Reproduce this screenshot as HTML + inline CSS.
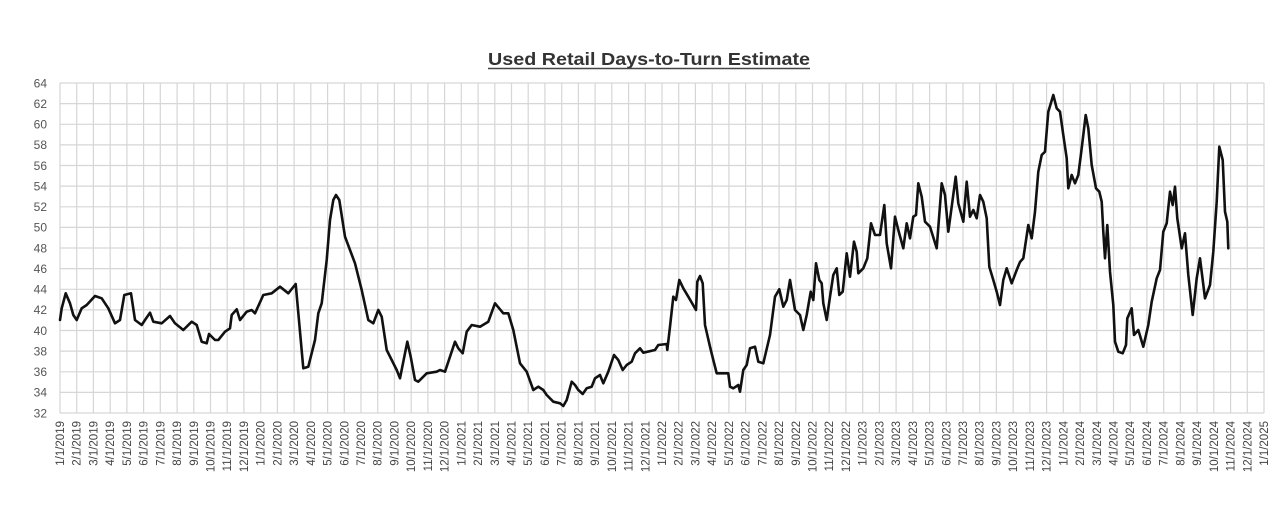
<!DOCTYPE html>
<html><head><meta charset="utf-8"><style>
html,body{margin:0;padding:0;background:#fff;}
svg{display:block;}
text{font-family:"Liberation Sans",Arial,sans-serif;}
</style></head><body>
<svg width="1280" height="515" viewBox="0 0 1280 515" xmlns="http://www.w3.org/2000/svg">
<rect width="1280" height="515" fill="#fff"/>
<text x="649" y="65" text-anchor="middle" font-size="17.5" font-weight="bold" fill="#333" textLength="322" lengthAdjust="spacingAndGlyphs">Used Retail Days-to-Turn Estimate</text>
<line x1="488" y1="68.5" x2="810" y2="68.5" stroke="#444" stroke-width="1.4"/>
<g stroke="#d6d6d6" stroke-width="1.2">
<line x1="60" y1="83" x2="1264" y2="83"/><line x1="60" y1="103.6" x2="1264" y2="103.6"/><line x1="60" y1="124.3" x2="1264" y2="124.3"/><line x1="60" y1="144.9" x2="1264" y2="144.9"/><line x1="60" y1="165.5" x2="1264" y2="165.5"/><line x1="60" y1="186.1" x2="1264" y2="186.1"/><line x1="60" y1="206.8" x2="1264" y2="206.8"/><line x1="60" y1="227.4" x2="1264" y2="227.4"/><line x1="60" y1="248" x2="1264" y2="248"/><line x1="60" y1="268.6" x2="1264" y2="268.6"/><line x1="60" y1="289.3" x2="1264" y2="289.3"/><line x1="60" y1="309.9" x2="1264" y2="309.9"/><line x1="60" y1="330.5" x2="1264" y2="330.5"/><line x1="60" y1="351.1" x2="1264" y2="351.1"/><line x1="60" y1="371.8" x2="1264" y2="371.8"/><line x1="60" y1="392.4" x2="1264" y2="392.4"/><line x1="60" y1="413" x2="1264" y2="413"/>
<line x1="60" y1="83" x2="60" y2="413"/><line x1="76.7" y1="83" x2="76.7" y2="413"/><line x1="93.4" y1="83" x2="93.4" y2="413"/><line x1="110.2" y1="83" x2="110.2" y2="413"/><line x1="126.9" y1="83" x2="126.9" y2="413"/><line x1="143.6" y1="83" x2="143.6" y2="413"/><line x1="160.3" y1="83" x2="160.3" y2="413"/><line x1="177.1" y1="83" x2="177.1" y2="413"/><line x1="193.8" y1="83" x2="193.8" y2="413"/><line x1="210.5" y1="83" x2="210.5" y2="413"/><line x1="227.2" y1="83" x2="227.2" y2="413"/><line x1="243.9" y1="83" x2="243.9" y2="413"/><line x1="260.7" y1="83" x2="260.7" y2="413"/><line x1="277.4" y1="83" x2="277.4" y2="413"/><line x1="294.1" y1="83" x2="294.1" y2="413"/><line x1="310.8" y1="83" x2="310.8" y2="413"/><line x1="327.6" y1="83" x2="327.6" y2="413"/><line x1="344.3" y1="83" x2="344.3" y2="413"/><line x1="361" y1="83" x2="361" y2="413"/><line x1="377.7" y1="83" x2="377.7" y2="413"/><line x1="394.4" y1="83" x2="394.4" y2="413"/><line x1="411.2" y1="83" x2="411.2" y2="413"/><line x1="427.9" y1="83" x2="427.9" y2="413"/><line x1="444.6" y1="83" x2="444.6" y2="413"/><line x1="461.3" y1="83" x2="461.3" y2="413"/><line x1="478.1" y1="83" x2="478.1" y2="413"/><line x1="494.8" y1="83" x2="494.8" y2="413"/><line x1="511.5" y1="83" x2="511.5" y2="413"/><line x1="528.2" y1="83" x2="528.2" y2="413"/><line x1="544.9" y1="83" x2="544.9" y2="413"/><line x1="561.7" y1="83" x2="561.7" y2="413"/><line x1="578.4" y1="83" x2="578.4" y2="413"/><line x1="595.1" y1="83" x2="595.1" y2="413"/><line x1="611.8" y1="83" x2="611.8" y2="413"/><line x1="628.6" y1="83" x2="628.6" y2="413"/><line x1="645.3" y1="83" x2="645.3" y2="413"/><line x1="662" y1="83" x2="662" y2="413"/><line x1="678.7" y1="83" x2="678.7" y2="413"/><line x1="695.4" y1="83" x2="695.4" y2="413"/><line x1="712.2" y1="83" x2="712.2" y2="413"/><line x1="728.9" y1="83" x2="728.9" y2="413"/><line x1="745.6" y1="83" x2="745.6" y2="413"/><line x1="762.3" y1="83" x2="762.3" y2="413"/><line x1="779.1" y1="83" x2="779.1" y2="413"/><line x1="795.8" y1="83" x2="795.8" y2="413"/><line x1="812.5" y1="83" x2="812.5" y2="413"/><line x1="829.2" y1="83" x2="829.2" y2="413"/><line x1="845.9" y1="83" x2="845.9" y2="413"/><line x1="862.7" y1="83" x2="862.7" y2="413"/><line x1="879.4" y1="83" x2="879.4" y2="413"/><line x1="896.1" y1="83" x2="896.1" y2="413"/><line x1="912.8" y1="83" x2="912.8" y2="413"/><line x1="929.6" y1="83" x2="929.6" y2="413"/><line x1="946.3" y1="83" x2="946.3" y2="413"/><line x1="963" y1="83" x2="963" y2="413"/><line x1="979.7" y1="83" x2="979.7" y2="413"/><line x1="996.4" y1="83" x2="996.4" y2="413"/><line x1="1013.2" y1="83" x2="1013.2" y2="413"/><line x1="1029.9" y1="83" x2="1029.9" y2="413"/><line x1="1046.6" y1="83" x2="1046.6" y2="413"/><line x1="1063.3" y1="83" x2="1063.3" y2="413"/><line x1="1080.1" y1="83" x2="1080.1" y2="413"/><line x1="1096.8" y1="83" x2="1096.8" y2="413"/><line x1="1113.5" y1="83" x2="1113.5" y2="413"/><line x1="1130.2" y1="83" x2="1130.2" y2="413"/><line x1="1146.9" y1="83" x2="1146.9" y2="413"/><line x1="1163.7" y1="83" x2="1163.7" y2="413"/><line x1="1180.4" y1="83" x2="1180.4" y2="413"/><line x1="1197.1" y1="83" x2="1197.1" y2="413"/><line x1="1213.8" y1="83" x2="1213.8" y2="413"/><line x1="1230.6" y1="83" x2="1230.6" y2="413"/><line x1="1247.3" y1="83" x2="1247.3" y2="413"/><line x1="1264" y1="83" x2="1264" y2="413"/>
</g>
<g font-size="12" fill="#555" text-anchor="end">
<text x="47" y="87.3">64</text><text x="47" y="107.9">62</text><text x="47" y="128.6">60</text><text x="47" y="149.2">58</text><text x="47" y="169.8">56</text><text x="47" y="190.4">54</text><text x="47" y="211.1">52</text><text x="47" y="231.7">50</text><text x="47" y="252.3">48</text><text x="47" y="272.9">46</text><text x="47" y="293.6">44</text><text x="47" y="314.2">42</text><text x="47" y="334.8">40</text><text x="47" y="355.4">38</text><text x="47" y="376.1">36</text><text x="47" y="396.7">34</text><text x="47" y="417.3">32</text>
</g>
<g font-size="11.5" fill="#444" text-anchor="end">
<text transform="translate(64,421) rotate(-90)">1/1/2019</text>
<text transform="translate(80.7,421) rotate(-90)">2/1/2019</text>
<text transform="translate(97.4,421) rotate(-90)">3/1/2019</text>
<text transform="translate(114.2,421) rotate(-90)">4/1/2019</text>
<text transform="translate(130.9,421) rotate(-90)">5/1/2019</text>
<text transform="translate(147.6,421) rotate(-90)">6/1/2019</text>
<text transform="translate(164.3,421) rotate(-90)">7/1/2019</text>
<text transform="translate(181.1,421) rotate(-90)">8/1/2019</text>
<text transform="translate(197.8,421) rotate(-90)">9/1/2019</text>
<text transform="translate(214.5,421) rotate(-90)">10/1/2019</text>
<text transform="translate(231.2,421) rotate(-90)">11/1/2019</text>
<text transform="translate(247.9,421) rotate(-90)">12/1/2019</text>
<text transform="translate(264.7,421) rotate(-90)">1/1/2020</text>
<text transform="translate(281.4,421) rotate(-90)">2/1/2020</text>
<text transform="translate(298.1,421) rotate(-90)">3/1/2020</text>
<text transform="translate(314.8,421) rotate(-90)">4/1/2020</text>
<text transform="translate(331.6,421) rotate(-90)">5/1/2020</text>
<text transform="translate(348.3,421) rotate(-90)">6/1/2020</text>
<text transform="translate(365,421) rotate(-90)">7/1/2020</text>
<text transform="translate(381.7,421) rotate(-90)">8/1/2020</text>
<text transform="translate(398.4,421) rotate(-90)">9/1/2020</text>
<text transform="translate(415.2,421) rotate(-90)">10/1/2020</text>
<text transform="translate(431.9,421) rotate(-90)">11/1/2020</text>
<text transform="translate(448.6,421) rotate(-90)">12/1/2020</text>
<text transform="translate(465.3,421) rotate(-90)">1/1/2021</text>
<text transform="translate(482.1,421) rotate(-90)">2/1/2021</text>
<text transform="translate(498.8,421) rotate(-90)">3/1/2021</text>
<text transform="translate(515.5,421) rotate(-90)">4/1/2021</text>
<text transform="translate(532.2,421) rotate(-90)">5/1/2021</text>
<text transform="translate(548.9,421) rotate(-90)">6/1/2021</text>
<text transform="translate(565.7,421) rotate(-90)">7/1/2021</text>
<text transform="translate(582.4,421) rotate(-90)">8/1/2021</text>
<text transform="translate(599.1,421) rotate(-90)">9/1/2021</text>
<text transform="translate(615.8,421) rotate(-90)">10/1/2021</text>
<text transform="translate(632.6,421) rotate(-90)">11/1/2021</text>
<text transform="translate(649.3,421) rotate(-90)">12/1/2021</text>
<text transform="translate(666,421) rotate(-90)">1/1/2022</text>
<text transform="translate(682.7,421) rotate(-90)">2/1/2022</text>
<text transform="translate(699.4,421) rotate(-90)">3/1/2022</text>
<text transform="translate(716.2,421) rotate(-90)">4/1/2022</text>
<text transform="translate(732.9,421) rotate(-90)">5/1/2022</text>
<text transform="translate(749.6,421) rotate(-90)">6/1/2022</text>
<text transform="translate(766.3,421) rotate(-90)">7/1/2022</text>
<text transform="translate(783.1,421) rotate(-90)">8/1/2022</text>
<text transform="translate(799.8,421) rotate(-90)">9/1/2022</text>
<text transform="translate(816.5,421) rotate(-90)">10/1/2022</text>
<text transform="translate(833.2,421) rotate(-90)">11/1/2022</text>
<text transform="translate(849.9,421) rotate(-90)">12/1/2022</text>
<text transform="translate(866.7,421) rotate(-90)">1/1/2023</text>
<text transform="translate(883.4,421) rotate(-90)">2/1/2023</text>
<text transform="translate(900.1,421) rotate(-90)">3/1/2023</text>
<text transform="translate(916.8,421) rotate(-90)">4/1/2023</text>
<text transform="translate(933.6,421) rotate(-90)">5/1/2023</text>
<text transform="translate(950.3,421) rotate(-90)">6/1/2023</text>
<text transform="translate(967,421) rotate(-90)">7/1/2023</text>
<text transform="translate(983.7,421) rotate(-90)">8/1/2023</text>
<text transform="translate(1000.4,421) rotate(-90)">9/1/2023</text>
<text transform="translate(1017.2,421) rotate(-90)">10/1/2023</text>
<text transform="translate(1033.9,421) rotate(-90)">11/1/2023</text>
<text transform="translate(1050.6,421) rotate(-90)">12/1/2023</text>
<text transform="translate(1067.3,421) rotate(-90)">1/1/2024</text>
<text transform="translate(1084.1,421) rotate(-90)">2/1/2024</text>
<text transform="translate(1100.8,421) rotate(-90)">3/1/2024</text>
<text transform="translate(1117.5,421) rotate(-90)">4/1/2024</text>
<text transform="translate(1134.2,421) rotate(-90)">5/1/2024</text>
<text transform="translate(1150.9,421) rotate(-90)">6/1/2024</text>
<text transform="translate(1167.7,421) rotate(-90)">7/1/2024</text>
<text transform="translate(1184.4,421) rotate(-90)">8/1/2024</text>
<text transform="translate(1201.1,421) rotate(-90)">9/1/2024</text>
<text transform="translate(1217.8,421) rotate(-90)">10/1/2024</text>
<text transform="translate(1234.6,421) rotate(-90)">11/1/2024</text>
<text transform="translate(1251.3,421) rotate(-90)">12/1/2024</text>
<text transform="translate(1268,421) rotate(-90)">1/1/2025</text>
</g>
<polyline fill="none" stroke="#111" stroke-width="2.6" stroke-linejoin="round" stroke-linecap="round" points="
60,320 61.7,308.3 65.7,293.3 70,303.3 73.3,315 76.7,320 81.7,308.3 86.7,305 95,296 101.7,298.3 108.3,308.3 115,323.3 120,320 124.3,295 131,293.3 135,320 141.7,325 145,320 150,312.7 153.3,321.7 161.7,323.3 170,316 175,323.3 183.3,330 191.7,321.7 196.7,325 201.7,341.7 206.7,343.3 209,334 215,340 218.3,340 225,331.7 230,328.3 231.7,315 236.7,309.3 240,320 246.7,311.7 251.7,310 255,313.3 263.3,295 271.7,293.3 280,286.7 288.3,293.3 295.7,284
303.3,368.3 308.3,366.7 315,340 318.3,313.3 321.7,303.3 326.7,260 330,220 333.3,200 336,195 339.3,200 345,236.7 350,250 355,263.3 361.7,290 368.3,320 373.3,323.3 378.3,310 381.7,316.7 386.7,350 391.7,360 396.7,370 400,378.3 407.3,341.7 410.7,356.7 415,380 418.3,381.7 426.7,373.3 436.7,371.7 440,370 445,371.7 450,356.7 455,341.7 458.3,348.3 462.7,353.3 466.7,331.7 471.7,325 480,326.7 488.3,321.7 495,303.3 503.3,313.3 508.3,313.3 513.3,330 520,363.3 526.7,371.7 533.3,390 538.3,386.7 543.3,390
546.7,395 553.3,401.7 560,403.3 563.3,406 566.7,400 571.7,381.7 575,385 578.3,390 582.7,394 586.7,388.3 591.7,386.7 595,378.3 600,375 603.3,383.3 608.3,371.7 614,355 618.3,360 622.7,370 626.7,365 631.7,361.7 635,353.3 640,348.3 643.3,352.7 655,350 658.3,345 666.7,344 667.3,350 670,326.7 673.3,296.7 676,300 679.3,280 683.3,288.3 688.3,296.7 696,310 697.3,281.7 700,276 702.7,283.3 705,325 710,346.7 713.3,360 716.7,373.3 728.3,373.3 730,386.7 733.3,388.3 738.3,385 740,391.7 743.3,370 746.7,365 750,348.3 755,346.7 758.3,361.7 763.3,363.3 770,335 775,296.7 779.3,289.3 783.3,306.7 786.7,300 790,280
795,310 800,315 803.3,330 806.7,315 810.7,291.7 813.3,300 816,263.3 819.3,280 821.7,283.3 823.3,303.3 826.7,320 830,296.7 833.3,275 836.7,268.3 839.3,295 842.7,291.7 846.7,253.3 850,276.7 854,241.7 856.7,251.7 858.3,273.3 863.3,268.3 867.3,258.3 871,223.3 875,235 880,235 884.3,205 886.7,243.3 891,268.3 895,216.7 898.3,230 903.3,248.3 906.7,223.3 910,238.3 913.3,216.7 916,215 918.3,183.3 921.7,196.7 925,221.7 930,226.7 936.7,248.3 941.7,183.3 945,195 948.3,231.7 951.7,206.7 955.7,176.7 958.3,203.3 963.3,221.7 966.7,181.7 970,216.7 973.3,210 976.7,218.3 980,195 983.3,201.7 986.7,218.3 989.3,266.7 993.3,280 996.7,291.7 1000,305 1003.3,280 1006.7,268.3 1011.7,283.3 1016.7,270 1020,262
1023.3,258.3 1028.3,225 1031.7,238.3 1035,211.7 1038.3,171.7 1041.7,155 1045,151.7 1048.3,111.7 1053.3,95 1056.7,108.3 1060,111.7 1063.3,135 1066.7,158.3 1068.3,188.3 1071.7,175 1075,183.3 1078.3,175 1081.7,148.3 1085.7,115 1088.3,128.3 1091.7,165 1096,188.3 1099.3,191.7 1101.7,201.7 1103.3,231.7 1105,258.3 1107.3,225 1110,271.7 1113.3,305 1115,341.7 1118.3,351.7 1122.7,353.3 1126,345 1127.3,318.3 1131.7,308.3 1134,335 1138.3,330 1143.3,346.7 1148.3,325 1151.7,301.7 1156.7,278.3 1160,270 1163.3,231.7 1166.7,223.3 1170,191.7 1172.7,205 1175,186.7 1177.3,218.3 1181.7,248.3 1185,233.3 1188.3,275 1192.7,315 1196.7,278.3 1200,258.3 1205,298.3 1210,285 1213.3,251.7 1216.7,201.7 1219.3,146.7 1222.7,160 1225,211.7 1227.3,221.7 1228.3,248.3"/>
</svg>
</body></html>
